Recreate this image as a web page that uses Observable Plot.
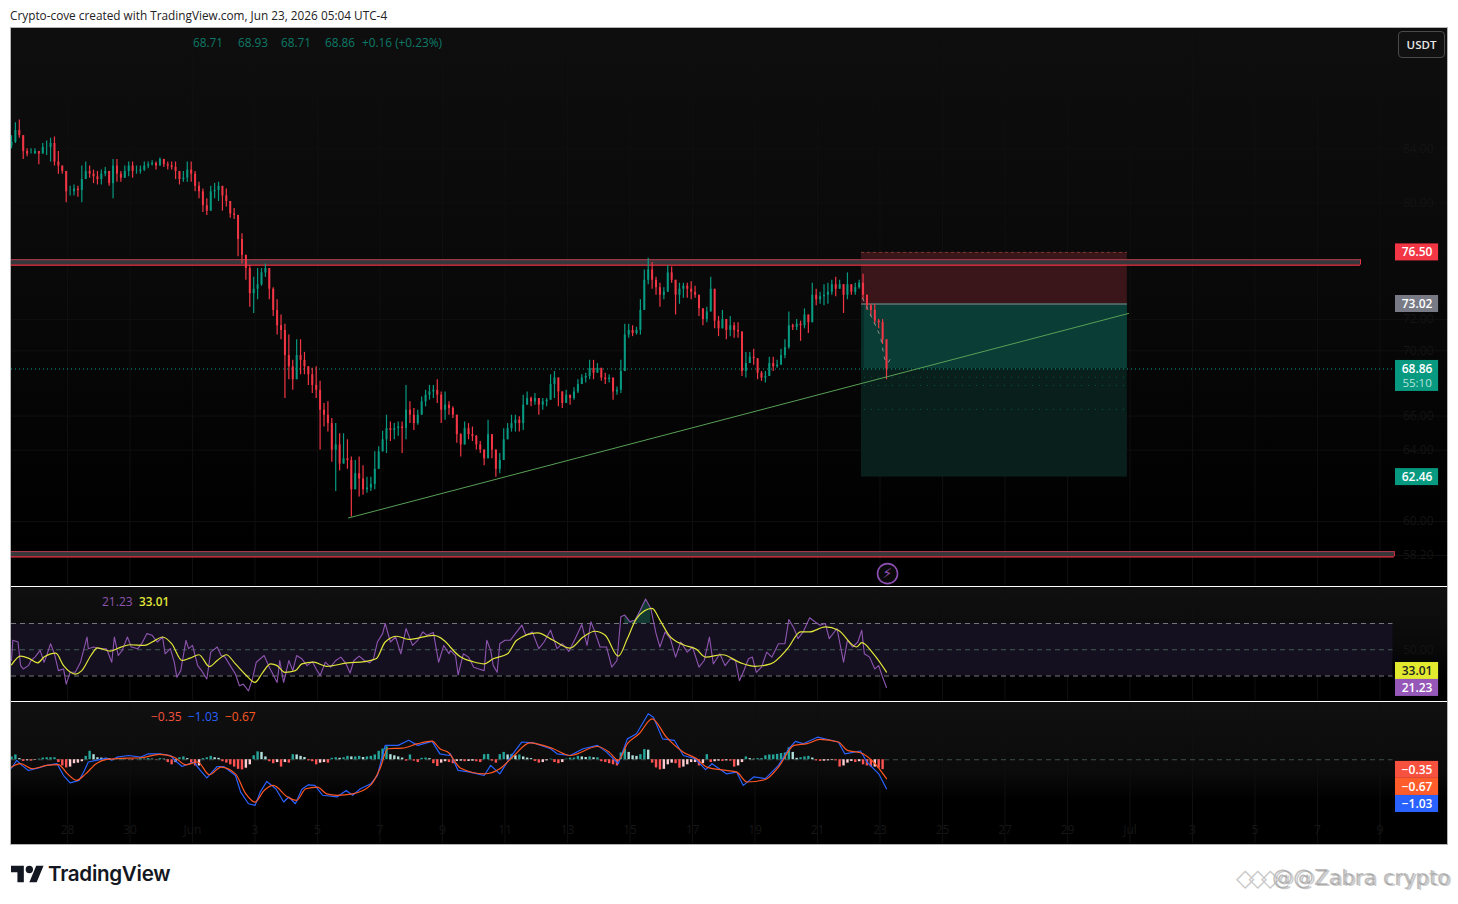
<!DOCTYPE html>
<html>
<head>
<meta charset="utf-8">
<script src="https://cdn.jsdelivr.net/npm/d3@7"></script>
<script src="https://cdn.jsdelivr.net/npm/@observablehq/plot@0.6"></script>
<style>
html,body{margin:0;padding:0;background:#fff;}
#page{position:relative;width:1458px;height:904px;overflow:hidden;font-family:"Open Sans",sans-serif;}
#frame{position:absolute;left:10px;top:27px;width:1436px;height:816px;border:1px solid #b4b4b4;background:#000;}
.abs{position:absolute;white-space:pre;}
.sep{position:absolute;left:11px;width:1436px;height:1px;background:#fff;}
</style>
</head>
<body>
<div id="page">
  <div class="abs" style="left:10px;top:7px;font-size:11.8px;color:#222;">Crypto-cove created with TradingView.com, Jun 23, 2026 05:04 UTC-4</div>
  <div id="frame"></div>
</div>
<script>
// Hourly offset from the first candle, May 26 05:00 UTC; candles are 3 h apart.
const startMs = Date.UTC(2026, 4, 26, 5);
const at = h => new Date(startMs + h * 3600e3);

const high = [
85.0,86.0,86.2,84.4,84.0,84.0,84.0,83.8,
84.4,84.6,84.8,84.9,83.8,82.7,82.3,81.2,
81.3,81.2,82.7,83.0,82.7,82.4,82.3,82.4,
82.6,82.3,83.2,83.2,82.3,82.7,83.0,83.0,
82.7,82.7,83.0,83.0,83.1,83.0,83.3,83.2,
83.0,83.0,83.0,82.1,82.3,83.0,83.0,82.3,
81.5,81.0,80.3,81.2,81.4,81.5,81.2,81.0,
79.8,79.6,79.1,77.8,76.1,75.6,74.8,75.4,
75.4,75.7,75.0,74.1,73.3,72.3,71.7,71.0,
69.4,70.7,70.7,69.9,69.0,68.9,69.0,68.1,
66.75,66.85,65.85,65.55,64.95,64.95,64.6,63.6,
63.4,63.6,63.1,62.45,62.45,63.9,64.2,65.1,
66.05,65.65,65.55,65.65,65.65,67.85,66.85,66.45,
66.35,67.15,67.55,67.85,67.85,68.2,67.45,67.45,
66.85,66.55,65.95,64.95,65.65,65.55,65.35,64.85,
64.5,63.9,65.75,64.85,63.6,63.8,65.25,65.55,
66.05,66.05,65.95,67.25,67.45,67.15,67.35,67.05,
67.05,67.05,68.5,68.7,68.2,66.95,67.55,67.25,
67.7,68.2,68.5,68.6,69.4,69.4,69.2,68.9,
68.6,68.5,67.85,67.75,69.4,71.7,71.7,71.6,
71.5,73.3,75.3,76.1,75.8,74.8,74.4,74.1,
75.6,75.5,74.4,74.4,74.4,74.4,74.5,74.2,
73.4,72.7,72.8,74.8,72.6,72.2,72.6,71.9,
72.2,71.8,71.8,71.1,69.9,69.9,70.1,69.4,
68.7,68.7,69.6,69.6,69.4,70.1,70.7,72.5,
71.7,72.0,71.9,72.7,72.3,74.4,74.0,73.8,
74.3,74.4,74.6,74.8,74.6,74.3,75.1,74.1,
74.4,74.6,75.0,73.5,73.0,73.0,72.0,72.0,70.7];
const low = [
84.0,84.4,84.8,83.2,83.4,83.6,83.6,82.8,
83.6,83.5,83.0,82.7,82.1,82.1,80.0,80.5,
80.5,80.4,80.0,81.8,81.8,81.4,81.3,81.3,
81.9,81.2,80.3,81.5,81.5,81.8,81.9,81.8,
82.1,82.1,82.3,82.5,82.7,82.4,82.9,82.6,
82.4,82.4,81.7,81.3,81.5,81.5,81.5,80.8,
80.3,79.3,79.1,80.1,80.3,80.1,79.4,79.7,
78.9,78.8,76.2,75.7,74.6,72.8,72.4,73.3,
74.2,74.8,73.3,72.2,71.0,70.7,67.05,68.2,
67.55,68.4,68.5,68.5,67.85,67.35,67.05,64.0,
65.35,65.05,63.3,61.65,62.8,63.2,62.9,60.25,
62.25,61.35,61.45,61.55,61.65,61.75,63.3,64.2,
63.8,64.5,64.6,64.8,63.8,64.6,65.55,65.15,
65.45,66.05,66.55,66.95,67.05,66.75,65.55,65.75,
66.05,65.85,64.4,63.6,64.7,64.6,64.5,64.0,
63.8,63.1,63.8,63.5,62.45,62.65,63.6,64.9,
65.05,65.05,65.05,65.15,66.65,66.55,66.65,66.05,
66.35,66.55,66.95,67.05,66.55,66.45,66.75,66.65,
66.95,67.35,67.9,68.0,68.2,68.2,68.6,68.1,
67.9,68.0,66.95,67.25,67.35,70.1,70.8,70.9,
71.0,71.0,72.9,74.3,74.0,73.6,72.8,73.3,
74.3,74.4,72.3,73.0,73.4,73.4,73.3,73.4,
72.2,71.6,71.8,73.3,71.4,70.9,71.5,70.7,
70.9,70.8,70.8,68.4,68.3,69.2,69.1,68.2,
68.1,68.0,68.6,68.7,68.9,69.2,69.5,70.1,
71.3,71.3,70.6,71.4,71.1,72.4,72.9,73.0,
72.9,73.0,73.6,73.5,74.0,72.4,73.3,73.6,
73.6,74.0,73.3,72.6,72.2,71.7,71.4,70.4,68.2];
const close = [
84.5,85.4,85.0,83.8,83.6,83.6,83.8,83.6,
84.1,84.1,84.4,83.0,82.7,82.3,80.8,80.8,
81.0,80.9,81.7,82.3,82.1,81.9,81.7,82.1,
82.3,81.4,82.7,82.1,81.8,82.3,82.7,82.3,
82.3,82.4,82.7,82.8,82.9,82.7,83.2,82.8,
82.7,82.6,82.3,81.7,81.8,82.4,82.1,81.2,
80.8,79.8,79.4,80.8,80.9,81.2,80.5,80.1,
79.2,79.1,77.4,76.3,75.4,73.7,74.0,74.3,
75.1,75.4,74.0,72.6,71.6,71.3,69.7,69.0,
68.2,69.7,69.4,69.0,68.5,67.85,67.55,66.35,
66.05,65.55,64.0,64.3,63.2,63.5,63.4,61.75,
62.65,62.35,61.75,61.85,62.05,62.9,63.9,64.6,
65.25,65.15,65.25,65.35,65.25,66.35,66.05,65.55,
66.05,66.85,67.25,67.45,67.55,67.25,66.35,66.65,
66.45,66.05,64.9,64.3,65.25,64.9,64.8,64.3,
64.0,63.5,64.9,64.0,62.9,63.4,64.6,65.25,
65.55,65.75,65.55,66.65,67.05,66.85,67.05,66.65,
66.85,66.95,67.9,68.3,67.45,66.75,67.25,67.05,
67.45,67.9,68.3,68.4,68.9,68.6,68.9,68.3,
68.2,68.3,67.45,67.55,68.7,71.0,71.3,71.1,
71.3,72.6,74.6,75.3,74.6,74.1,73.6,73.8,
75.1,74.6,73.6,74.0,74.2,74.0,73.8,73.6,
72.7,72.0,72.5,74.0,71.9,71.4,72.0,71.3,
71.6,71.3,71.2,68.7,69.2,69.6,69.5,68.6,
68.3,68.4,69.2,69.0,69.1,69.7,70.2,71.6,
71.5,71.7,71.6,72.3,71.8,73.6,73.3,73.5,
73.6,73.8,74.3,74.0,74.3,73.6,74.3,73.8,
74.1,74.4,73.6,72.9,72.6,71.9,71.8,70.7,68.86];
const firstOpen = 84.2;

const rsiHours = [0,1,5,7,9,13,15,18,22,25,27,30,33,36,40,42,45,49,53,55,58,59,63,68,73,77,79,82,85,89,92,97,100,104,108,112,116,118,122,125,127,130,134,136,139,143,146,150,153,158,161,164,168,172,175,178,182,185,188,194,198,200,204,206,209,213,216,219,223,227,231,234,237,241,245,249,253,257,260,263,267,271,275,278,281,285,287,291,295,299,303,308,312,316,319,324,328,332,336,
337,341,343,347,351,355,359,363,365,368,370,373,375,379,383,387,392,395,400,405,409,414,419,423,428,433,438,442,445,448,452,457,461,465,468,471,475,479,483,487,491,495,498,502,506,510,514,519,523,528,532,536,539,544,548,552,556,559,562,566,569,572,576,580,584,589,594,597,601,604,608,613,617,621,625,628,634,637,639,642,646,650,653,655,659,663,666,669,672];
const rsiValues = [41.8,57.2,55.9,37.9,35.4,37.9,41.8,44.4,49.5,40.5,45.6,54.6,46.9,34.1,35.4,23.8,32.8,32.8,40.5,48.2,59.7,50.8,52.1,50.8,50.8,40.5,59.7,45.6,49.5,59.7,52.1,50.8,54.6,62.3,61,55.9,59.7,46.9,50.8,40.5,29,34.1,57.2,50.8,53.3,37.9,34.1,27.7,48.2,52.1,45.6,44.4,37.9,31.5,22.6,23.8,18.7,27.7,40.5,45.6,36.7,32.8,25.1,41.8,25.1,41.8,34.1,45.6,43.1,37.9,41,35.4,30.3,40.5,36.7,41.8,44.4,39.2,32.3,41.8,45.1,41.8,40,43.1,55.9,62.3,70,55.9,59.7,46.9,66.2,53.3,57.2,63.6,61,63.1,40.5,53.3,46.9,
49.5,45.6,30.8,46.9,44.4,36.7,35.4,34.1,57.2,49.5,37.9,32.8,54.6,57.2,57.2,62.3,68.7,61,63.6,50.8,55.9,64.9,50.8,54.6,48.7,58.5,69.2,53.3,71.3,63.6,52.1,52.1,36.7,41.8,75.1,76.4,71.3,72.6,80.3,88.7,81.5,62.3,52.1,63.6,58.5,44.4,55.9,48.2,52.1,36.7,41.8,59.7,39.2,46.9,37.9,43.1,41.8,26.4,32.8,43.1,44.4,32.8,36.7,48.2,44.4,54.6,54.6,73.1,66.2,58.5,63.6,74.4,71.3,68.7,70,58.5,66.2,50.8,40.5,57.2,52.1,55.9,64.9,46.9,44.4,35.4,37.9,29,21.23];
const rsiMaHours = [0,7,13,20,25,34,40,49,54,61,66,76,81,91,102,109,116,123,131,137,144,152,158,165,172,180,187,193,199,204,210,218,223,232,242,258,271,280,287,296,305,324,336,
337,345,354,363,370,381,388,404,416,429,439,448,456,466,473,480,492,498,505,516,526,533,546,560,571,583,596,606,613,625,635,649,653,662,672];
const rsiMaValues = [38.5,45.1,43.6,40,44.4,47.4,37.9,31.5,34.1,45.6,51.5,48.9,50.8,53.8,53.3,56.4,59.7,54.6,41.8,43.6,46.2,37.2,41.8,46.2,39.2,30.8,25.1,32.8,39.2,37.9,32.8,34.1,39.2,40.5,37.4,40,41,43.1,55.9,60.3,57.9,61,53.3,
52.1,44.4,41,39.2,43.1,46.9,57.2,62.8,57.2,51.3,59.7,64.1,61,45.1,58.5,73.8,81.5,72.6,61,53.8,50.3,44.4,46.2,40,37.4,39.2,50.8,63.6,63.6,67.4,64.9,52.1,55.4,46.9,33.01];

const macdHours = [0,4,8,13,20,27,35,40,45,52,56,59,65,73,77,81,90,99,105,114,122,127,131,140,145,150,158,163,172,176,182,187,191,196,203,209,213,218,223,228,233,239,250,257,262,268,276,281,287,297,305,312,323,329,336,
337,343,352,363,368,375,384,392,401,414,419,429,439,450,457,466,473,480,489,493,500,509,516,525,533,538,549,557,562,570,579,589,597,602,608,619,635,640,652,657,666,672];
const macdValues = [-.30,-.02,-.2,-.38,-.30,-.20,-.14,-.56,-.82,-.73,-.38,-.08,-.02,.06,-.02,.09,.15,.09,.21,.21,.15,-.08,-.24,-.08,-.38,-.64,-.24,-.24,-.56,-1.15,-1.56,-1.62,-1.15,-.77,-1.03,-1.5,-1.32,-1.56,-1.05,-.89,-.91,-1.26,-1.32,-1.09,-1.26,-1.03,-.85,-.56,.51,.51,.69,.51,.65,.21,.15,
.21,-.38,-.44,-.56,-.2,-.5,.15,.63,.6,.39,.21,.15,.39,.51,.27,-.14,.74,.92,1.63,1.51,.74,.69,.15,.04,-.35,-.14,-.5,-.44,-.91,-.61,-.67,-.2,.39,.65,.57,.8,.63,.21,.31,-.08,-.5,-1.03];
const signalHours = [0,7,16,27,36,43,50,57,65,73,81,99,114,125,134,143,152,161,172,180,187,194,201,212,219,226,235,242,250,262,276,283,289,300,312,323,329,336,
337,345,363,375,386,398,416,429,450,459,466,473,482,492,503,516,526,534,549,557,565,579,589,601,611,621,635,642,652,662,672];
const signalValues = [-.26,-.14,-.32,-.2,-.17,-.5,-.73,-.5,-.14,.01,.04,.07,.19,.09,-.18,-.08,-.53,-.26,-.5,-1.21,-1.5,-1.09,-.91,-1.32,-1.44,-1.03,-.97,-1.21,-1.26,-1.21,-.89,-.32,.39,.41,.57,.66,.39,.24,
.18,-.3,-.5,-.32,.15,.6,.39,.15,.47,.27,-.02,.57,.92,1.45,.8,.27,.04,-.26,-.38,-.44,-.79,-.7,-.26,.51,.57,.72,.63,.33,.25,-.08,-.67];
const histValues = [
.10,.17,.04,-.06,-.04,-.05,-.02,.02,.06,.07,.07,.07,
-.10,-.22,-.29,-.26,-.14,-.12,-.07,
.12,.30,.18,.07,.06,.05,.04,-.02,.04,.04,.02,-.01,-.02,.01,
.04,.02,.04,.02,-.01,.04,.02,
-.10,-.18,-.10,
.07,.10,.04,
-.12,-.22,-.22,
.04,.07,.12,.07,.05,
-.07,-.12,-.18,-.26,-.34,-.36,-.30,-.18,
.14,.28,.26,.10,
-.07,-.14,-.10,-.26,-.10,-.12,
.18,.17,.12,.08,
-.04,-.07,-.18,-.12,-.10,-.12,
.05,.07,.05,.07,.12,.10,.10,.12,.08,.10,.12,.17,
.30,.38,.46,
.18,.14,.10,.06,-.05,
.17,-.05,-.10,
.05,.06,.04,
-.14,-.24,-.12,-.07,
-.10,-.14,-.06,
-.05,-.07,-.06,-.05,-.07,-.10,
.18,.19,
-.05,-.12,
.18,.26,.17,.19,.14,.17,.10,.06,
.04,-.06,-.12,-.10,-.04,
.02,-.10,-.14,-.10,
.02,.06,.06,.12,.10,.08,.10,.07,.07,
-.07,-.10,-.14,-.18,-.22,
.24,.38,.26,
.14,.12,.18,.36,.34,
-.12,-.29,-.36,-.34,-.18,
-.12,-.14,-.30,-.26,-.18,-.10,
-.10,-.22,-.14,
.18,
-.10,-.07,-.05,-.06,-.04,-.05,
-.26,-.22,-.10,
.10,.04,.02,.04,
.04,.14,.17,.17,.19,.22,.24,.42,.26,
.05,.07,.10,.12,.06,
-.04,-.06,-.05,-.04,-.02,-.04,
-.26,-.22,-.12,-.06,-.10,-.07,
-.18,-.22,-.26,-.26,-.30,-.35];

const priceTicks = [84, 80, 72, 70, 66, 64, 60, 58.2];
const tickDays = [[4,28],[4,30],[5,1],[5,3],[5,5],[5,7],[5,9],[5,11],[5,13],[5,15],[5,17],[5,19],[5,21],[5,23],[5,25],[5,27],[5,29],[6,1],[6,3],[6,5],[6,7],[6,9]]
  .map(([m, d]) => new Date(Date.UTC(2026, m, d)));
const tickFmt = d => d.getUTCDate() === 1 ? (d.getUTCMonth() === 5 ? "Jun" : "Jul") : String(d.getUTCDate());

// Trade levels and drawn objects
const stopPrice = 76.50, entryPrice = 73.02, lastPrice = 68.86, targetPrice = 62.46;
const trendHours = [258.8, 857.9], trendPrices = [60.2, 72.4];
const pathHours = [653.6, 662, 667.4, 670.5, 672.8, 675], pathPrices = [73.4, 71.9, 70.9, 69.5, 69.2, 69.5];
const upperBand = [75.63, 76.0], lowerBand = [58.12, 58.4];

const candles = close.map((c, i) => {
  const o = i ? close[i - 1] : firstOpen;
  return {t: at(i * 3), o, c, h: Math.max(high[i], o, c), l: Math.min(low[i], o, c), col: c >= o ? "#089981" : "#f23645"};
});
const series = (hs, vs) => d3.zip(hs, vs).map(([h, v]) => ({t: at(h), v}));
const rsi = series(rsiHours, rsiValues), rsiMa = series(rsiMaHours, rsiMaValues);
const macd = series(macdHours, macdValues), signal = series(signalHours, signalValues);
const hist = histValues.map((v, i) => {
  const p = i ? histValues[i - 1] : 0;
  return {t: at(i * 3), v, col: v >= 0 ? (v >= p ? "#26a69a" : "#b2dfdb") : (v < p ? "#ff5252" : "#ffcdd2")};
});

const xDomain = [at(0), at(1436 * 0.768)];
const tagX1 = at(1062.9), tagX2 = at(1096), tagMid = at(1079.5);
const mono = '"Open Sans",sans-serif';
const page = document.getElementById("page");

function pane(top, height, yOpts, bg, marks) {
  const svg = Plot.plot({
    width: 1436, height, marginLeft: 0, marginRight: 0, marginTop: 0, marginBottom: 0,
    x: {type: "utc", domain: xDomain, range: [0, 1436], axis: null},
    y: {...yOpts, axis: null},
    style: {position: "absolute", left: "11px", top: top + "px", background: bg, fontFamily: mono, overflow: "hidden"},
    marks
  });
  page.appendChild(svg);
}
const vGrid = Plot.ruleX(tickDays, {stroke: "#101010", strokeWidth: 1});
const tag = (vals, labels, fills, txt, half = 8.5) => [
  Plot.rect(vals.map((v, i) => ({v, f: fills[i]})), {x1: () => tagX1, x2: () => tagX2, y1: "v", y2: "v", insetTop: -half, insetBottom: -half, fill: "f"}),
  Plot.text(vals.map((v, i) => ({v, s: labels[i], f: txt[i]})), {x: () => tagMid, y: "v", text: "s", fill: "f", fontSize: 12, fontWeight: 600})
];
const bandMarks = (band, endHour) => [
  Plot.rect([band], {x1: () => at(-1), x2: () => at(endHour), y1: d => d[0], y2: d => d[1], fill: "#37373c"}),
  Plot.ruleY([band[1]], {x1: at(-1), x2: at(endHour), stroke: "#b03a48", strokeWidth: 1}),
  Plot.ruleY([band[0]], {x1: at(-1), x2: at(endHour), stroke: "#f23645", strokeWidth: 1.2}),
  Plot.ruleX([at(endHour)], {y1: band[0], y2: band[1], stroke: "#f23645", strokeWidth: 1})
];

// ---- price pane ----
pane(28, 557, {type: "log", domain: [56.64, 93.63], range: [557, 0]},
  "linear-gradient(#0e0e0e 0%, #090909 45%, #000 92%)", [
  vGrid,
  Plot.ruleY(priceTicks, {stroke: "#101010"}),
  Plot.axisY(priceTicks, {anchor: "right", tickSize: 0, tickPadding: 0, textAnchor: "end", dx: -14, color: "#141414", fontSize: 12, tickFormat: d => d.toFixed(2), label: null}),
  // risk / reward zones
  Plot.rect([0], {x1: () => at(652.8), x2: () => at(857), y1: () => entryPrice, y2: () => stopPrice, fill: "#3a1519"}),
  Plot.rect([0], {x1: () => at(652.8), x2: () => at(857), y1: () => lastPrice, y2: () => entryPrice, fill: "#082d28"}),
  Plot.rect([0], {x1: () => at(655), x2: () => at(857), y1: () => lastPrice, y2: () => entryPrice, fill: "#0a3d36"}),
  Plot.rect([0], {x1: () => at(652.8), x2: () => at(857), y1: () => targetPrice, y2: () => lastPrice, fill: "#081f1c"}),
  Plot.ruleY([66.4, 68.35, 67.85], {x1: at(655), x2: at(857), stroke: "#0e5a4c", strokeDasharray: "1 6"}),
  Plot.ruleY([stopPrice], {x1: at(652.8), x2: at(857), stroke: "#7a3a30", strokeDasharray: "3 3"}),
  Plot.ruleY([entryPrice], {x1: at(652.8), x2: at(857), stroke: "#8d8d8d"}),
  // horizontal zones
  ...bandMarks(upperBand, 1036),
  ...bandMarks(lowerBand, 1062),
  Plot.ruleY([lastPrice], {x1: at(0), x2: at(1062), stroke: "#0aa58c", strokeDasharray: "1 3", strokeWidth: 1.1}),
  // candles
  Plot.ruleX(candles, {x: "t", y1: "l", y2: "h", stroke: "col", strokeWidth: 1.2}),
  Plot.ruleX(candles, {x: "t", y1: "o", y2: "c", stroke: "col", strokeWidth: 2}),
  // drawings
  Plot.line(d3.zip(pathHours, pathPrices), {x: d => at(d[0]), y: d => d[1], stroke: "#8f8f8f", strokeDasharray: "3 6", strokeWidth: 1}),
  Plot.line(d3.zip(trendHours, trendPrices), {x: d => at(d[0]), y: d => d[1], stroke: "#57a057", strokeWidth: 1}),
  Plot.dot([0], {x: () => at(672.8), y: () => 57.25, r: 10, stroke: "#8e4fb5", strokeWidth: 1.6, fill: "#0a0a0a"}),
  Plot.text([0], {x: () => at(672.8), y: () => 57.25, text: () => "\u26A1\uFE0E", fill: "#8e4fb5", fontSize: 14, fontFamily: "DejaVu Sans"}),
  // tags
  ...tag([stopPrice, entryPrice, targetPrice], ["76.50", "73.02", "62.46"], ["#f23645", "#787b86", "#089981"], ["#fff", "#fff", "#fff"]),
  Plot.rect([68.43], {x1: () => tagX1, x2: () => tagX2, y1: d => d, y2: d => d, insetTop: -15.5, insetBottom: -15.5, fill: "#089981"}),
  Plot.text([0], {x: () => tagMid, y: () => lastPrice, text: () => "68.86", fill: "#fff", fontSize: 12, fontWeight: 600}),
  Plot.text([0], {x: () => tagMid, y: () => 68.0, text: () => "55:10", fill: "#b7e4dc", fontSize: 11.5})
]);

// ---- RSI pane ----
pane(587, 113, {domain: [11.33, 97.43], range: [113, 0]},
  "linear-gradient(#101010 0%, #0a0a0a 50%, #000 85%)", [
  vGrid,
  Plot.rect([0], {x1: () => at(0), x2: () => at(1061), y1: () => 30, y2: () => 70, fill: "#15101f"}),
  Plot.axisY([50], {anchor: "right", tickSize: 0, tickPadding: 0, textAnchor: "end", dx: -14, color: "#141414", fontSize: 12, tickFormat: d => d.toFixed(2), label: null}),
  Plot.ruleY([70, 30], {x1: at(0), x2: at(1061), stroke: "#77777f", strokeDasharray: "5 4"}),
  Plot.ruleY([50], {x1: at(0), x2: at(1061), stroke: "#3f5f55", strokeDasharray: "5 4"}),
  Plot.areaY(rsi.filter(d => d.v >= 70 && d.t >= at(470) && d.t <= at(493)), {x: "t", y1: () => 70, y2: "v", fill: "#123a33"}),
  Plot.line(rsi, {x: "t", y: "v", stroke: "#8e55b0", strokeWidth: 1.1}),
  Plot.line(rsiMa, {x: "t", y: "v", stroke: "#e0e63a", strokeWidth: 1.2, curve: "monotone-x"}),
  ...tag([33.8, 20.9], ["33.01", "21.23"], ["#e1ea2f", "#9558b8"], ["#222", "#fff"])
]);

// ---- MACD pane ----
pane(702, 141, {domain: [-2.97, 2.03], range: [141, 0]},
  "linear-gradient(#101010 0%, #0b0b0b 50%, #000 70%)", [
  vGrid,
  Plot.ruleY([0], {x1: at(0), x2: at(1061), stroke: "#3f4f4a", strokeDasharray: "5 4"}),
  Plot.ruleX(hist, {x: "t", y1: () => 0, y2: "v", stroke: "col", strokeWidth: 2.4}),
  Plot.line(macd, {x: "t", y: "v", stroke: "#2962ff", strokeWidth: 1.2}),
  Plot.line(signal, {x: "t", y: "v", stroke: "#ff5722", strokeWidth: 1.2, curve: "monotone-x"}),
  Plot.axisX(tickDays, {anchor: "bottom", tickSize: 0, tickPadding: 0, dy: -18, color: "#171717", fontSize: 12, tickFormat: tickFmt, label: null}),
  ...tag([-0.36, -0.965, -1.57], ["\u22120.35", "\u22120.67", "\u22121.03"], ["#f7513f", "#ff5c2b", "#2962ff"], ["#fff", "#fff", "#fff"])
]);

// ---- html chrome ----
const addText = (x, y, s, css) => {
  const e = document.createElement("div");
  e.className = "abs"; e.textContent = s;
  e.style.cssText += `left:${x}px;top:${y}px;` + css;
  page.appendChild(e);
};
[586, 701].forEach(y => { const e = document.createElement("div"); e.className = "sep"; e.style.top = y + "px"; page.appendChild(e); });
const ohlc = [[193, "68.71"], [238, "68.93"], [281, "68.71"], [325, "68.86"], [362, "+0.16 (+0.23%)"]];
ohlc.forEach(([x, s]) => addText(x, 34, s, "font-size:11.8px;color:#0d7a68;"));
addText(102, 593, "21.23", "font-size:12px;color:#8e55b0;");
addText(139, 593, "33.01", "font-size:11.8px;font-weight:600;color:#e0e63a;");
addText(151, 708, "\u22120.35", "font-size:12px;color:#f7513f;");
addText(188, 708, "\u22121.03", "font-size:12px;color:#2962ff;");
addText(225, 708, "\u22120.67", "font-size:12px;color:#ff5722;");
addText(1398, 31, "USDT", "box-sizing:border-box;width:47px;height:27px;line-height:25px;text-align:center;border:1px solid #4a4a4a;border-radius:4px;background:#111;color:#e8e8e8;font-size:11.5px;font-weight:600;");
// logo
const logo = document.createElementNS("http://www.w3.org/2000/svg", "svg");
logo.setAttribute("viewBox", "0 0 36 28");
logo.style.cssText = "position:absolute;left:11px;top:862px;width:33px;height:26px;";
logo.innerHTML = '<path fill="#131722" d="M14 22H7V11H0V4h14v18zM28 22h-8l7.5-18h8L28 22z"/><circle fill="#131722" cx="20" cy="8" r="4"/>';
page.appendChild(logo);
addText(48, 861, "TradingView", 'font-family:Inter,sans-serif;font-size:20.6px;font-weight:600;color:#131722;letter-spacing:-.3px;');
// watermark
addText(1236, 864, "\u25C7\u25C7\u25C7", "font-family:'DejaVu Sans';font-size:24px;color:#c8c8c8;letter-spacing:-6px;");
addText(1272, 866, "@@Zabra crypto", "font-family:'DejaVu Sans';font-size:21px;color:#bdbdbd;");
addText(1274, 867, "@@Zabra crypto", "font-family:'DejaVu Sans';font-size:21px;color:rgba(150,150,150,.5);");
</script>
</body>
</html>
